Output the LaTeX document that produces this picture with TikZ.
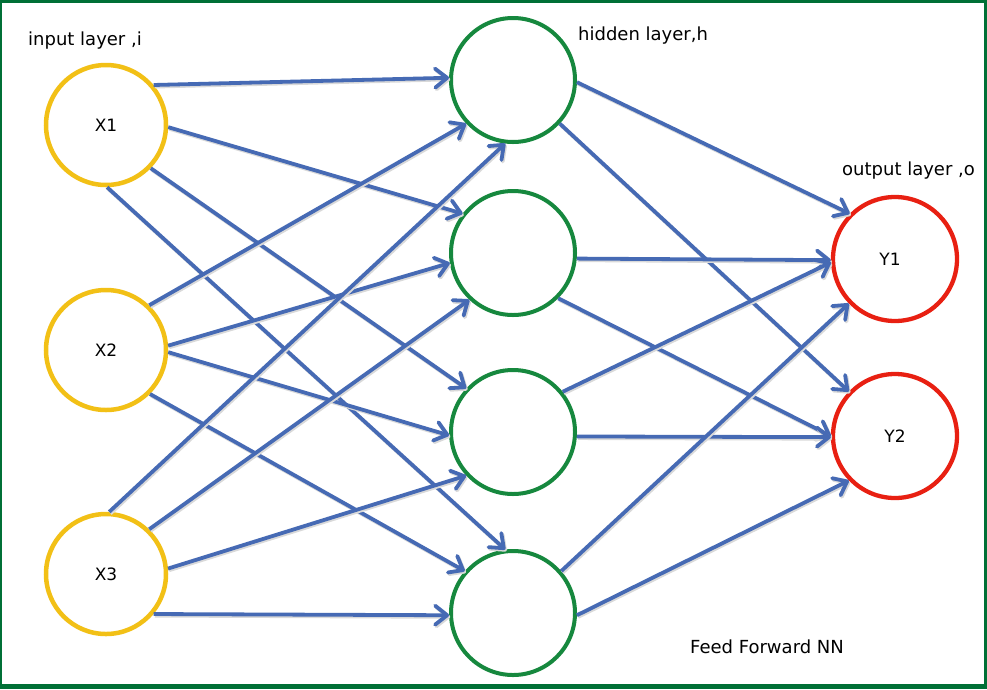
\documentclass[tikz,border=0pt]{standalone}
\usepackage{fontspec}
\setmainfont{DejaVu Sans}
\usetikzlibrary{arrows.meta}
\definecolor{inyel}{RGB}{242,192,22}
\definecolor{hidgreen}{RGB}{22,136,62}
\definecolor{outred}{RGB}{232,32,18}
\definecolor{arrblue}{RGB}{70,106,180}
\definecolor{framegreen}{RGB}{0,112,54}
\begin{document}
\begin{tikzpicture}[x=1pt,y=-1pt,
  neuron/.style={circle, inner sep=0pt, fill=white, font=\fontsize{17}{20}\selectfont},
  inneuron/.style={neuron, draw=inyel, line width=4.5pt, minimum size=120pt},
  hidneuron/.style={neuron, draw=hidgreen, line width=4pt, minimum size=124pt},
  outneuron/.style={neuron, draw=outred, line width=4.3pt, minimum size=124pt},
  conn/.style={draw=arrblue, line width=3.8pt, -{Straight Barb[length=12pt,width=19pt,round]},
    preaction={draw=black!15, line width=3.8pt, transform canvas={shift={(1.2pt,-1.6pt)}}}},
  caption/.style={anchor=base west, inner sep=0pt, font=\fontsize{18}{21}\selectfont}
]
\useasboundingbox (0,0) rectangle (987,689);
\fill[white] (0,0) rectangle (987,689);
\fill[framegreen] (0,0) rectangle (987,3);
\fill[framegreen] (0,0) rectangle (2,689);
\fill[framegreen] (0,684) rectangle (987,689);
\fill[framegreen] (984,0) rectangle (987,689);

\node[inneuron] (x1) at (106,125) {X1};
\node[inneuron] (x2) at (106,350) {X2};
\node[inneuron] (x3) at (106,574) {X3};
\node[hidneuron] (h1) at (513,80) {};
\node[hidneuron] (h2) at (513,253) {};
\node[hidneuron] (h3) at (513,432) {};
\node[hidneuron] (h4) at (513,613) {};
\node[outneuron] (y1) at (895,259) {\raisebox{-4pt}{\hspace*{-10pt}Y1}};
\node[outneuron] (y2) at (895,436) {Y2};

\draw[conn] (x1.40) -- (h1.178);
\draw[conn] (x1.358) -- (h2.142);
\draw[conn] (x1.316) -- (h3.137);
\draw[conn] (x1.271) -- (h4.97);
\draw[conn] (x2.46) -- (h1.223);
\draw[conn] (x2.4) -- (h2.189);
\draw[conn] (x2.358) -- (h3.183);
\draw[conn] (x2.315) -- (h4.139);
\draw[conn] (x3.87) -- (h1.263);
\draw[conn] (x3.46) -- (h2.227);
\draw[conn] (x3.5) -- (h3.223);
\draw[conn] (x3.320) -- (h4.182);

\draw[conn] (h1.358) -- (y1.135);
\draw[conn] (h1.317) -- (y2.136);
\draw[conn] (h2.355) -- (y1.181);
\draw[conn] (h2.315) -- (y2.180);
\draw[conn] (h3.39) -- (y1.183);
\draw[conn] (h3.356) -- (y2.181);
\draw[conn] (h4.41) -- (y1.224);
\draw[conn] (h4.358) -- (y2.224);

\node[caption] (lin) at (28,45) {input layer ,i};
\node[caption] (lhid) at (578,40) {hidden layer,h};
\node[caption] (lout) at (842,175) {output layer ,o};
\node[caption] (lff) at (690,653) {Feed Forward NN};
\end{tikzpicture}
\end{document}
